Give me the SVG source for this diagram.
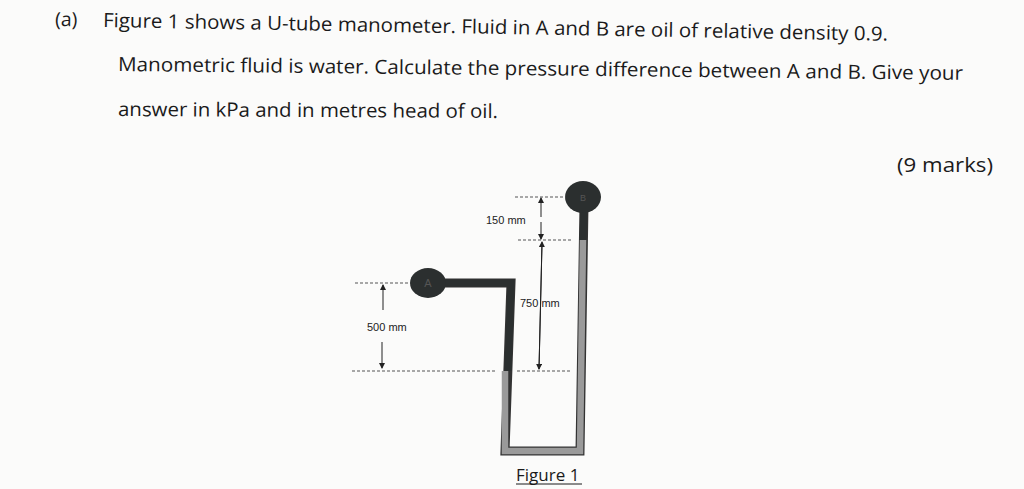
<svg xmlns="http://www.w3.org/2000/svg" width="1024" height="489" viewBox="0 0 1024 489">
<style>
.t{font-family:"Open Sans","Liberation Sans",sans-serif;font-size:19.5px;fill:#1a1a1a}
.s{font-family:"Liberation Sans",Arial,sans-serif;font-size:11px;fill:#222}
.d{stroke:#555;stroke-width:1.2;stroke-dasharray:3 2;fill:none}
.a{stroke:#222;stroke-width:1;fill:none;marker-end:url(#ah)}
</style>
<defs><marker id="ah" markerWidth="6" markerHeight="6" refX="5" refY="3" orient="auto"><path d="M0,0L6,3L0,6z" fill="#222"/></marker></defs>
<rect width="1024" height="489" fill="#fbfbfa"/>
<g id="question">
<text class="t" x="55" y="26" transform="rotate(1 55 26)">(a)</text>
<text class="t" x="103" y="27" textLength="785" lengthAdjust="spacingAndGlyphs" transform="rotate(1 103 27)">Figure 1 shows a U-tube manometer. Fluid in A and B are oil of relative density 0.9.</text>
<text class="t" x="118" y="71" textLength="845" lengthAdjust="spacingAndGlyphs" transform="rotate(0.6 118 71)">Manometric fluid is water. Calculate the pressure difference between A and B. Give your</text>
<text class="t" x="118" y="116" textLength="380" lengthAdjust="spacingAndGlyphs" transform="rotate(0.3 118 116)">answer in kPa and in metres head of oil.</text>
<text class="t" x="897" y="172" textLength="96" lengthAdjust="spacingAndGlyphs">(9 marks)</text>
</g>
<g id="tube">
<path d="M428,283 H511 L505,451 H580 L584,205" fill="none" stroke="#333" stroke-width="9"/>
<path d="M505,371 L505,451 H580 L583,240" fill="none" stroke="#9a9a9a" stroke-width="6.5"/>
<path d="M428,283 H511 L508,371" fill="none" stroke="#2b2f2f" stroke-width="7"/>
<path d="M584,205 L583,240" fill="none" stroke="#2b2f2f" stroke-width="7"/>
</g>
<g id="A"><ellipse cx="428" cy="283" rx="18" ry="15" fill="#2b2f2f"/><text class="s" x="428" y="287" text-anchor="middle" style="fill:#555">A</text></g>
<g id="B"><ellipse cx="583" cy="197" rx="18" ry="16" fill="#2b2f2f"/><text class="s" x="583" y="201" text-anchor="middle" style="fill:#555;font-size:9px">B</text></g>
<g id="connectors">
<path class="d" d="M515,197H566M518,240H572M355,283H410M352,371H497M517,371H572"/>
<path class="a" d="M541,217V198"/><path class="a" d="M541,222V239"/>
<path class="a" d="M542,244L539,369"/><path class="a" d="M539,369L542,242"/>
<path class="a" d="M383,310V285"/><path class="a" d="M382,342V368"/>
</g>
<g id="labels">
<text class="s" x="486" y="224">150 mm</text>
<text class="s" x="520" y="307">750 mm</text>
<text class="s" x="367" y="331">500 mm</text>
<text class="t" x="516" y="481" style="font-size:17px">Figure 1</text>
<line x1="516" y1="484" x2="582" y2="484" stroke="#1a1a1a" stroke-width="1.2"/>
</g>
</svg>
